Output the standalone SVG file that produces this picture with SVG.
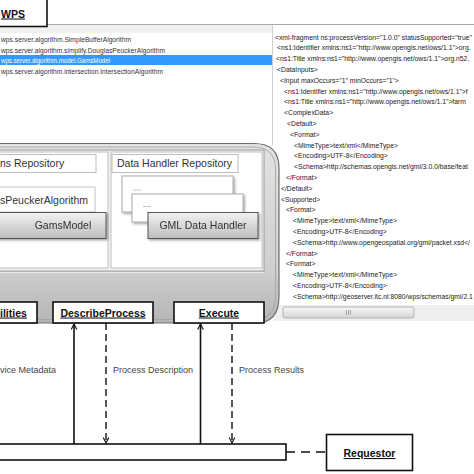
<svg xmlns="http://www.w3.org/2000/svg" width="474" height="474" viewBox="0 0 474 474">
<defs>
<linearGradient id="contGrad" x1="0" y1="0" x2="0" y2="1">
<stop offset="0" stop-color="#e2e2e2"/>
<stop offset="0.7" stop-color="#cfcfcf"/>
<stop offset="1" stop-color="#b4b4b4"/>
</linearGradient>
<linearGradient id="btnGrad" x1="0" y1="0" x2="0" y2="1">
<stop offset="0" stop-color="#f2f2f2"/>
<stop offset="1" stop-color="#bdbdbd"/>
</linearGradient>
<linearGradient id="thumbGrad" x1="0" y1="0" x2="0" y2="1">
<stop offset="0" stop-color="#f6f6f6"/>
<stop offset="1" stop-color="#d6d6d6"/>
</linearGradient>
<marker id="vhead" viewBox="0 0 10 10" refX="9" refY="5" markerWidth="7" markerHeight="7" orient="auto" markerUnits="userSpaceOnUse">
<path d="M1,1 L9,5 L1,9" fill="none" stroke="#111" stroke-width="1.6"/>
</marker>
<filter id="shadow" x="-10%" y="-10%" width="130%" height="140%">
<feDropShadow dx="1.5" dy="1.5" stdDeviation="1" flood-color="#000" flood-opacity="0.35"/>
</filter>
</defs>
<style>
.list{font-family:"Liberation Sans",Arial,sans-serif;font-size:7.4px;fill:#333}
.xml{font-family:"Liberation Sans",Arial,sans-serif;font-size:6.8px;fill:#222}
.lbl{font-family:"Liberation Sans",Arial,sans-serif;font-size:10.5px;fill:#333}
.btn{font-family:"Liberation Sans",Arial,sans-serif;font-size:10.5px;fill:#333;text-anchor:middle}
.op{font-family:"Liberation Sans",Arial,sans-serif;font-size:10.5px;font-weight:bold;fill:#111;text-anchor:middle;text-decoration:underline}
.msg{font-family:"Liberation Sans",Arial,sans-serif;font-size:9px;fill:#444}
.box{fill:#fff;stroke:#111;stroke-width:1.6}
.card{fill:#fff;stroke:#aaa;stroke-width:1}
.solid{fill:none;stroke:#111;stroke-width:1.6}
.dash{fill:none;stroke:#111;stroke-width:1.4;stroke-dasharray:7 4}
</style>
<rect x="0" y="0" width="474" height="474" fill="#fff"/>

<g id="list-panel">
<rect x="0" y="25" width="272" height="8" fill="#f1f1f1"/>
<line x1="47" y1="24.5" x2="474" y2="24.5" stroke="#a8a8a8" stroke-width="1"/>
<line x1="272.5" y1="25" x2="272.5" y2="145" stroke="#d0d0d0" stroke-width="1"/>
<rect x="0" y="55" width="272" height="10" fill="#3399ff"/>
<text class="list" x="1" y="41.5" textLength="130" lengthAdjust="spacingAndGlyphs">wps.server.algorithm.SimpleBufferAlgorithm</text>
<text class="list" x="1" y="52.5" textLength="164" lengthAdjust="spacingAndGlyphs">wps.server.algorithm.simplify.DouglasPeuckerAlgorithm</text>
<text class="list" x="1" y="63" textLength="109" lengthAdjust="spacingAndGlyphs" style="fill:#fff">wps.server.algorithm.model.GamsModel</text>
<text class="list" x="1" y="74" textLength="162" lengthAdjust="spacingAndGlyphs">wps.server.algorithm.intersection.IntersectionAlgorithm</text>
</g>

<g id="wps-title">
<rect x="-5" y="-5" width="52" height="31.5" class="box"/>
<text class="op" x="1" y="17.5" style="text-anchor:start">WPS</text>
</g>

<g id="xml-panel">
<text class="xml" x="275" y="39.5">&lt;xml-fragment ns:processVersion="1.0.0" statusSupported="true"</text>
<text class="xml" x="277" y="50.3">&lt;ns1:Identifier xmlns:ns1="http://www.opengis.net/ows/1.1"&gt;org.</text>
<text class="xml" x="276" y="61.1">&lt;ns1:Title xmlns:ns1="http://www.opengis.net/ows/1.1"&gt;org.n52.</text>
<text class="xml" x="277" y="71.9">&lt;DataInputs&gt;</text>
<text class="xml" x="280" y="82.7">&lt;Input maxOccurs="1" minOccurs="1"&gt;</text>
<text class="xml" x="284" y="93.5">&lt;ns1:Identifier xmlns:ns1="http://www.opengis.net/ows/1.1"&gt;f</text>
<text class="xml" x="284" y="104.3">&lt;ns1:Title xmlns:ns1="http://www.opengis.net/ows/1.1"&gt;farm</text>
<text class="xml" x="284" y="115.1">&lt;ComplexData&gt;</text>
<text class="xml" x="287" y="125.9">&lt;Default&gt;</text>
<text class="xml" x="290" y="136.7">&lt;Format&gt;</text>
<text class="xml" x="294" y="147.5">&lt;MimeType&gt;text/xml&lt;/MimeType&gt;</text>
<text class="xml" x="294" y="158.3">&lt;Encoding&gt;UTF-8&lt;/Encoding&gt;</text>
<text class="xml" x="294" y="169.1">&lt;Schema&gt;http://schemas.opengis.net/gml/3.0.0/base/feat</text>
<text class="xml" x="286" y="179.9">&lt;/Format&gt;</text>
<text class="xml" x="281" y="190.7">&lt;/Default&gt;</text>
<text class="xml" x="281" y="201.5">&lt;Supported&gt;</text>
<text class="xml" x="286" y="212.3">&lt;Format&gt;</text>
<text class="xml" x="293" y="223.1">&lt;MimeType&gt;text/xml&lt;/MimeType&gt;</text>
<text class="xml" x="293" y="233.9">&lt;Encoding&gt;UTF-8&lt;/Encoding&gt;</text>
<text class="xml" x="293" y="244.7">&lt;Schema&gt;http://www.opengeospatial.org/gml/packet.xsd&lt;/</text>
<text class="xml" x="286" y="255.5">&lt;/Format&gt;</text>
<text class="xml" x="286" y="266.3">&lt;Format&gt;</text>
<text class="xml" x="293" y="277.1">&lt;MimeType&gt;text/xml&lt;/MimeType&gt;</text>
<text class="xml" x="293" y="287.9">&lt;Encoding&gt;UTF-8&lt;/Encoding&gt;</text>
<text class="xml" x="293" y="298.7">&lt;Schema&gt;http://geoserver.itc.nl:8080/wps/schemas/gml/2.1</text>
<text class="xml" x="286" y="309.5">&lt;/Format&gt;</text>
<rect x="273" y="305" width="201" height="16" fill="#efefef"/>
<rect x="283" y="307" width="131" height="11" rx="2" fill="url(#thumbGrad)" stroke="#a4a4a4" stroke-width="0.8"/>
<path d="M346.5,310 v5 M348.5,310 v5 M350.5,310 v5" stroke="#888" stroke-width="0.7"/>
</g>

<g id="container">
<path d="M-10,143.5 H254 Q279,143.5 279,168 V296 Q279,323 256,323 H-10 Z" fill="url(#contGrad)" stroke="#6e6e6e" stroke-width="1.2"/>
<path d="M-10,147 H253 Q275.5,147 275.5,169 V295 Q275.5,319.5 255,319.5 H-10" fill="none" stroke="#a0a0a0" stroke-width="0.8"/>
<rect x="-10" y="150" width="274" height="121" fill="#f3f3f3" stroke="#9a9a9a" stroke-width="1"/>
<line x1="-10" y1="272.5" x2="264" y2="272.5" stroke="#e8e8e8" stroke-width="1"/>
</g>

<g id="algorithms-repo">
<rect x="-10" y="152" width="118" height="116" fill="#fff" stroke="#bdbdbd" stroke-width="1"/>
<rect x="-10" y="154.5" width="106" height="18" fill="#fff" stroke="#bdbdbd" stroke-width="1"/>
<text class="lbl" x="0" y="167">ns Repository</text>
<rect x="-10" y="187" width="105" height="25" fill="#fff" stroke="#c4c4c4" stroke-width="1"/>
<text class="lbl" x="0" y="204">sPeuckerAlgorithm</text>
</g>

<g id="gamsmodel" filter="url(#shadow)">
<rect x="-10" y="212.5" width="116" height="26" fill="url(#btnGrad)" stroke="#555" stroke-width="1"/>
<text class="btn" x="63" y="229">GamsModel</text>
</g>

<g id="datahandler-repo">
<rect x="111" y="152" width="151" height="116" fill="#fff" stroke="#bdbdbd" stroke-width="1"/>
<rect x="112" y="154.5" width="126" height="18" fill="#fff" stroke="#bdbdbd" stroke-width="1"/>
<text class="lbl" x="117" y="167">Data Handler Repository</text>
<rect x="122" y="176" width="111" height="36" class="card" filter="url(#shadow)"/>
<line x1="133" y1="190" x2="141" y2="190" stroke="#999" stroke-width="0.6"/>
<rect x="132" y="194" width="111" height="28" class="card" filter="url(#shadow)"/>
<line x1="143" y1="206.5" x2="151" y2="206.5" stroke="#999" stroke-width="0.6"/>
</g>

<g id="gml-handler" filter="url(#shadow)">
<rect x="148" y="212.5" width="110" height="26" fill="url(#btnGrad)" stroke="#555" stroke-width="1"/>
<text class="btn" x="203" y="229">GML Data Handler</text>
</g>

<g id="getcapabilities">
<rect x="-10" y="302" width="47" height="21" class="box"/>
<text class="op" x="0" y="316.5" style="text-anchor:start">ilities</text>
</g>

<g id="describeprocess">
<rect x="53" y="302" width="100" height="21" class="box"/>
<text class="op" x="103" y="316.5">DescribeProcess</text>
</g>

<g id="execute">
<rect x="174" y="302" width="90" height="21" class="box"/>
<text class="op" x="219" y="316.5">Execute</text>
</g>

<g id="bus">
<rect x="-10" y="444" width="296" height="16" class="box"/>
</g>

<g id="requestor">
<rect x="326.5" y="434.5" width="86" height="36" class="box"/>
<text class="op" x="369.5" y="457">Requestor</text>
</g>

<g id="connectors">
<line x1="74" y1="444" x2="74" y2="324" class="solid" marker-end="url(#vhead)"/>
<line x1="106" y1="323" x2="106" y2="443" class="dash" marker-end="url(#vhead)"/>
<line x1="200.5" y1="444" x2="200.5" y2="324" class="solid" marker-end="url(#vhead)"/>
<line x1="232" y1="323" x2="232" y2="443" class="dash" marker-end="url(#vhead)"/>
<line x1="286" y1="452" x2="326" y2="452" class="dash" style="stroke-dasharray:9 6"/>
</g>

<g id="labels">
<text class="msg" x="0" y="372.5">vice Metadata</text>
<text class="msg" x="113" y="372.5">Process Description</text>
<text class="msg" x="239" y="372.5">Process Results</text>
</g>
</svg>
